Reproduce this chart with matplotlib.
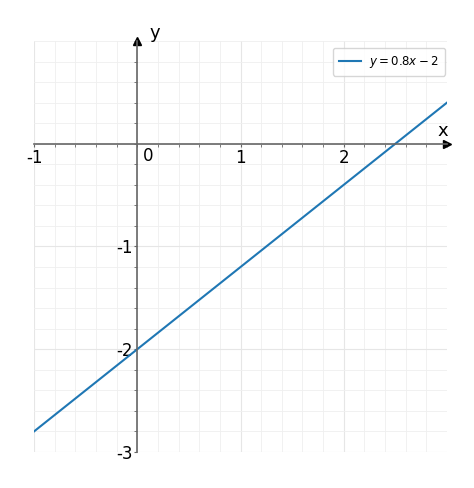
import numpy as np
import matplotlib.pyplot as plt
from matplotlib.ticker import MultipleLocator

plt.rcParams['axes.unicode_minus'] = False

# line y = 0.8x - 2, sampled at the ends of the visible range
slope = 0.8
intercept = -2
x_vals = [-1, 3]
y_vals = [slope * x + intercept for x in x_vals]

x_ticks = [-1, 1, 2]
y_ticks = [-3, -2, -1]

fig = plt.figure(figsize=(4.74, 4.88), dpi=100)
ax = fig.add_axes([0.072, 0.074, 0.871, 0.842])

ax.plot(x_vals, y_vals, color='#1f77b4', lw=1.5, label=r'$y = 0.8x - 2$')

ax.set_xlim(-1, 3)
ax.set_ylim(-3, 1)

# spines through the origin
ax.spines['left'].set_position(('data', 0))
ax.spines['bottom'].set_position(('data', 0))
ax.spines['right'].set_visible(False)
ax.spines['top'].set_visible(False)
for s in ['left', 'bottom']:
    ax.spines[s].set_color('#666666')
    ax.spines[s].set_linewidth(1.2)

ax.set_xticks(x_ticks)
ax.set_yticks(y_ticks)
ax.xaxis.set_minor_locator(MultipleLocator(0.2))
ax.yaxis.set_minor_locator(MultipleLocator(0.2))
ax.tick_params(which='both', length=2.5, color='#666666', labelsize=12, pad=1)
ax.text(0.1, -0.03, '0', fontsize=12, ha='center', va='top')

ax.grid(which='major', color='#e6e6e6', lw=0.8)
ax.grid(which='minor', color='#efefef', lw=0.6)
ax.set_axisbelow(True)

# arrows at the ends of the axes
ax.plot(1, 0, '>', color='black', ms=5.5, transform=ax.get_yaxis_transform(), clip_on=False)
ax.plot(0, 1, '^', color='black', ms=5.5, transform=ax.get_xaxis_transform(), clip_on=False)
ax.text(2.96, 0.04, 'x', fontsize=13, ha='center', va='bottom')
ax.text(0.17, 0.99, 'y', fontsize=13, ha='center', va='bottom')

ax.legend(loc='upper right', fontsize=8.5, handlelength=1.9, handletextpad=0.7,
          borderaxespad=0, borderpad=0.5,
          bbox_to_anchor=(445 / 474, 1 - 48 / 488), bbox_transform=fig.transFigure)

fig.savefig('out.png', dpi=100)
